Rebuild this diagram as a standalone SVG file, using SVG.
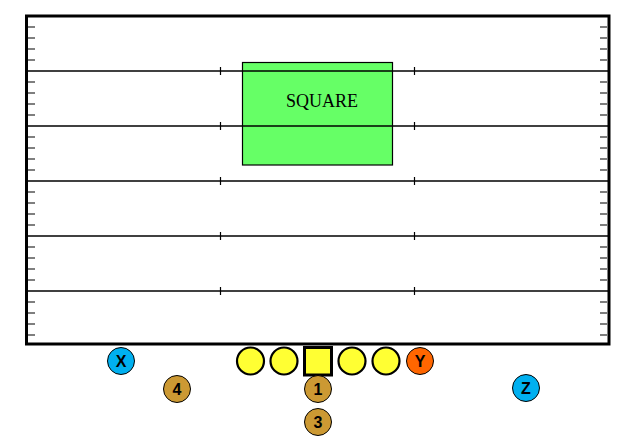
<svg xmlns="http://www.w3.org/2000/svg" width="619" height="446" viewBox="0 0 619 446">
<style>
.yl{stroke:#000;stroke-width:1.3;fill:none}
.tk{stroke:#000;stroke-width:1.2}
.ol{fill:#FFFF33;stroke:#000;stroke-width:2.2}
.sk{fill:#CC9933;stroke:#000;stroke-width:1}
.wr{fill:#00B0F0;stroke:#000;stroke-width:1}
.te{fill:#FF6600;stroke:#000;stroke-width:1}
.lb{font-family:"Liberation Sans",Arial,sans-serif;font-weight:bold;font-size:16px;text-anchor:middle;fill:#000}
</style>
<rect width="619" height="446" fill="#fff"/>
<g id="field">
<g class="yl">
<line x1="27" y1="71" x2="608" y2="71"/>
<line x1="27" y1="126" x2="608" y2="126"/>
<line x1="27" y1="181" x2="608" y2="181"/>
<line x1="27" y1="236" x2="608" y2="236"/>
<line x1="27" y1="291" x2="608" y2="291"/>
</g>
<g class="tk">
<path d="M28 27H35M28 38H35M28 49H35M28 60H35M28 82H35M28 93H35M28 104H35M28 115H35M28 137H35M28 148H35M28 159H35M28 170H35M28 192H35M28 203H35M28 214H35M28 225H35M28 247H35M28 258H35M28 269H35M28 280H35M28 302H35M28 313H35M28 324H35M28 335H35"/>
<path d="M600 27H607M600 38H607M600 49H607M600 60H607M600 82H607M600 93H607M600 104H607M600 115H607M600 137H607M600 148H607M600 159H607M600 170H607M600 192H607M600 203H607M600 214H607M600 225H607M600 247H607M600 258H607M600 269H607M600 280H607M600 302H607M600 313H607M600 324H607M600 335H607"/>
<path d="M220.5 67V75M220.5 122V130M220.5 177V185M220.5 232V240M220.5 287V295"/>
<path d="M414.5 67V75M414.5 122V130M414.5 177V185M414.5 232V240M414.5 287V295"/>
</g>
<rect x="26.5" y="16" width="582.5" height="328" fill="none" stroke="#000" stroke-width="3"/>
</g>
<g id="square">
<rect x="242.5" y="62.5" width="150" height="102.5" fill="#66FF66" stroke="#000" stroke-width="1.2"/>
<line x1="242.5" y1="71" x2="392.5" y2="71" class="yl"/>
<line x1="242.5" y1="126" x2="392.5" y2="126" class="yl"/>
<text x="322" y="107" font-family="'Liberation Serif','Times New Roman',serif" font-size="18" text-anchor="middle" fill="#000">SQUARE</text>
</g>
<g id="players">
<g id="X"><circle cx="121" cy="361" r="13.5" class="wr"/><text x="121" y="367" class="lb">X</text></g>
<g id="LT"><circle cx="250.5" cy="361" r="13.5" class="ol"/></g>
<g id="LG"><circle cx="284" cy="361" r="13.5" class="ol"/></g>
<g id="C"><rect x="304.5" y="347.5" width="27" height="27.5" fill="#FFFF33" stroke="#000" stroke-width="3"/></g>
<g id="RG"><circle cx="352" cy="361" r="13.5" class="ol"/></g>
<g id="RT"><circle cx="386" cy="361" r="13.5" class="ol"/></g>
<g id="Y"><circle cx="420" cy="361" r="13.5" class="te"/><text x="420" y="367" class="lb">Y</text></g>
<g id="p4"><circle cx="177" cy="389" r="13.5" class="sk"/><text x="177" y="395" class="lb">4</text></g>
<g id="p1"><circle cx="318" cy="389" r="13.5" class="sk"/><text x="318" y="395" class="lb">1</text></g>
<g id="p3"><circle cx="318" cy="422" r="13.5" class="sk"/><text x="318" y="428" class="lb">3</text></g>
<g id="Z"><circle cx="526" cy="388" r="13.5" class="wr"/><text x="526" y="394" class="lb">Z</text></g>
</g>
<g id="connectors"></g>
</svg>
